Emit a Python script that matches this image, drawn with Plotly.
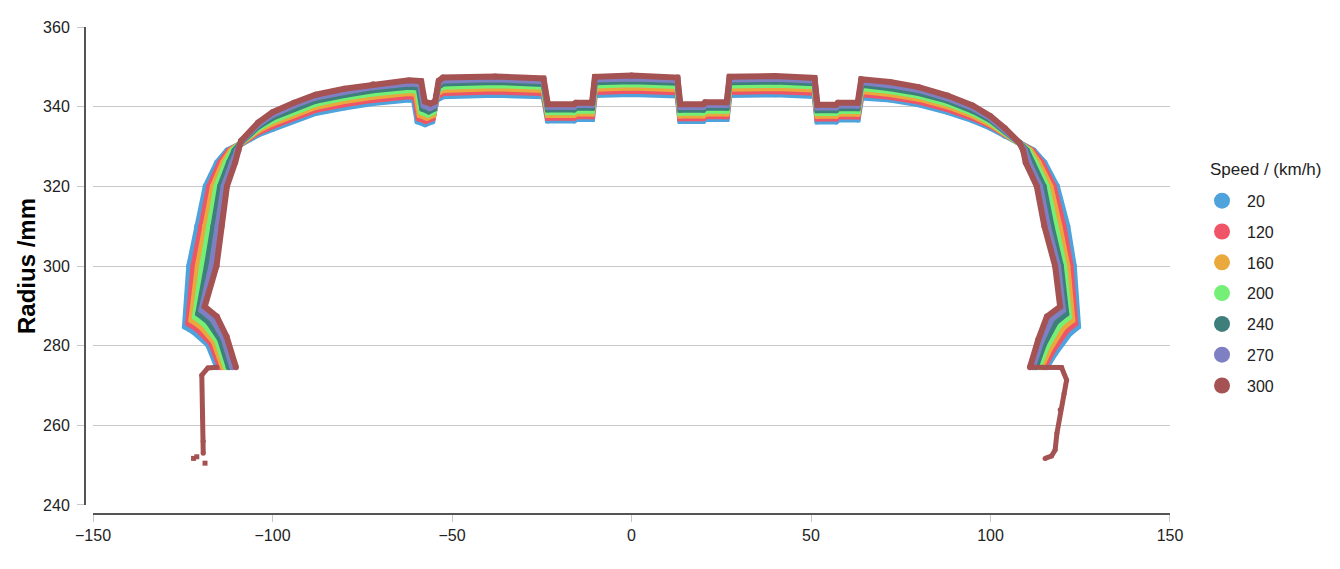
import plotly.graph_objects as go

# speeds in km/h, one profile per speed
speeds = ["20", "120", "160", "200", "240", "270", "300"]
colors = ["#4ea3dd", "#f05467", "#e9a93c", "#75f076", "#3e7f7c", "#7f80c4", "#a45252"]

# tyre profiles (lateral position mm, radius mm), left sidewall -> crown -> right sidewall
x20 = [-115.4, -117.9, -122.0, -124.4, -123.2, -121.0, -118.6, -115.4, -112.6, -108.4,
       -104, -100, -94, -88, -80, -72, -62, -60.6, -59.6, -57.5, -55.5, -54.3,
       -52.5, -38, -24.5, -23.3, -16, -15.5, -11, -10.2, 0, 12.8, 13.6, 20, 20.5, 26.5,
       27.3, 40, 51, 51.8, 57, 57.5, 63, 64, 72, 80, 88, 95, 100, 104,
       108.6, 112.0, 115.0, 118.5, 121.4, 123.2, 124.4, 122.1, 118.0, 115.6]
y20 = [274.6, 280.2, 283.5, 284.8, 300, 310, 320, 326, 329, 330.8,
       333.0, 334.4, 336.6, 338.4, 339.8, 340.9, 341.8, 341.6, 336.3, 335.6, 336.3, 341.7,
       342.6, 343.0, 342.6, 336.5, 336.5, 336.9, 336.9, 342.9, 343.2, 342.8, 336.4, 336.4, 336.9, 336.9,
       342.9, 343.1, 342.7, 336.3, 336.3, 336.8, 336.8, 342.3, 341.8, 340.6, 338.7, 336.6, 334.7, 332.7,
       330.4, 329, 326, 320, 310, 300, 284.8, 283.1, 278.1, 274.6]

x120 = [-114.6, -117.1, -121.0, -123.5, -122.0, -119.9, -117.6, -114.6, -112.1, -108.5,
        -104, -100, -94, -88, -80, -72, -62, -60.3, -59.3, -57.3, -55.4, -54.2,
        -52.5, -38, -24.5, -23.3, -16, -15.5, -11, -10.2, 0, 12.8, 13.6, 20, 20.5, 26.5,
        27.3, 40, 51, 51.8, 57, 57.5, 63, 64, 72, 80, 88, 95, 100, 104,
        108.5, 111.6, 114.2, 117.6, 120.3, 122.3, 123.6, 121.2, 117.3, 114.9]
y120 = [274.6, 280.6, 284.2, 285.6, 300, 310, 320, 326, 329, 330.9,
        333.5, 335.1, 337.3, 339.2, 340.6, 341.7, 342.6, 342.4, 337.1, 336.4, 337.1, 342.5,
        343.4, 343.8, 343.4, 337.2, 337.2, 337.6, 337.6, 343.7, 344.0, 343.6, 337.1, 337.1, 337.6, 337.6,
        343.7, 343.9, 343.5, 337.0, 337.0, 337.5, 337.5, 343.1, 342.5, 341.3, 339.4, 337.2, 335.2, 333.0,
        330.5, 329, 326, 320, 310, 300, 285.6, 283.8, 278.7, 274.6]

x160 = [-113.8, -116.3, -120.0, -122.6, -120.8, -118.8, -116.6, -113.8, -111.6, -108.5,
        -104, -100, -94, -88, -80, -72, -62, -60.0, -59.0, -57.0, -55.2, -54.1,
        -52.5, -38, -24.5, -23.3, -16, -15.5, -11, -10.2, 0, 12.8, 13.6, 20, 20.5, 26.5,
        27.3, 40, 51, 51.8, 57, 57.5, 63, 64, 72, 80, 88, 95, 100, 104,
        108.4, 111.1, 113.4, 116.7, 119.2, 121.4, 122.8, 120.2, 116.5, 114.1]
y160 = [274.6, 281.0, 284.8, 286.4, 300, 310, 320, 326, 329, 331.0,
        334.0, 335.8, 338.0, 339.9, 341.4, 342.5, 343.4, 343.2, 337.9, 337.2, 337.9, 343.3,
        344.2, 344.6, 344.2, 337.9, 337.9, 338.3, 338.3, 344.5, 344.8, 344.4, 337.8, 337.8, 338.3, 338.3,
        344.5, 344.7, 344.3, 337.7, 337.7, 338.2, 338.2, 343.9, 343.2, 342.0, 340.1, 337.8, 335.6, 333.3,
        330.6, 329, 326, 320, 310, 300, 286.4, 284.5, 279.2, 274.6]

x200 = [-113.0, -115.5, -119.0, -121.6, -119.6, -117.7, -115.6, -113.0, -111.1, -108.6,
        -104, -100, -94, -88, -80, -72, -62, -59.6, -58.6, -56.7, -55.1, -54.0,
        -52.5, -38, -24.5, -23.3, -16, -15.5, -11, -10.2, 0, 12.8, 13.6, 20, 20.5, 26.5,
        27.3, 40, 51, 51.8, 57, 57.5, 63, 64, 72, 80, 88, 95, 100, 104,
        108.3, 110.6, 112.5, 115.7, 118.1, 120.5, 121.9, 119.2, 115.7, 113.4]
y200 = [274.6, 281.4, 285.4, 287.2, 300, 310, 320, 326, 329, 331.1,
        334.5, 336.5, 338.7, 340.7, 342.2, 343.3, 344.2, 344.0, 338.7, 338.0, 338.7, 344.1,
        345.0, 345.4, 345.0, 338.6, 338.6, 339.0, 339.0, 345.3, 345.6, 345.2, 338.5, 338.5, 339.0, 339.0,
        345.3, 345.5, 345.1, 338.4, 338.4, 338.9, 338.9, 344.7, 343.9, 342.7, 340.8, 338.4, 336.1, 333.6,
        330.7, 329, 326, 320, 310, 300, 287.2, 285.2, 279.8, 274.6]

x240 = [-112.2, -114.6, -117.9, -120.7, -118.3, -116.5, -114.6, -112.1, -110.6, -108.6,
        -104, -100, -94, -88, -80, -72, -62, -59.3, -58.3, -56.5, -55.0, -53.9,
        -52.5, -38, -24.5, -23.3, -16, -15.5, -11, -10.2, 0, 12.8, 13.6, 20, 20.5, 26.5,
        27.3, 40, 51, 51.8, 57, 57.5, 63, 64, 72, 80, 88, 95, 100, 104,
        108.2, 110.1, 111.6, 114.8, 117.0, 119.6, 121.1, 118.2, 114.9, 112.6]
y240 = [274.6, 281.6, 286.0, 288.0, 300, 310, 320, 326, 329, 331.2,
        335.0, 337.2, 339.5, 341.5, 342.9, 344.1, 345.0, 344.8, 339.5, 338.8, 339.5, 344.9,
        345.8, 346.2, 345.7, 339.3, 339.3, 339.7, 339.7, 346.1, 346.4, 346.0, 339.2, 339.2, 339.7, 339.7,
        346.1, 346.3, 345.9, 339.1, 339.1, 339.6, 339.6, 345.5, 344.6, 343.4, 341.5, 339.0, 336.6, 333.9,
        330.8, 329, 326, 320, 310, 300, 288.0, 285.9, 280.4, 274.6]

x270 = [-111.2, -113.7, -116.7, -119.8, -117.0, -115.3, -113.6, -111.2, -110.0, -108.7,
        -104, -100, -94, -88, -80, -72, -62, -58.9, -57.9, -56.2, -54.8, -53.8,
        -52.5, -38, -24.5, -23.3, -16, -15.5, -11, -10.2, 0, 12.8, 13.6, 20, 20.5, 26.5,
        27.3, 40, 51, 51.8, 57, 57.5, 63, 64, 72, 80, 88, 95, 100, 104,
        108.1, 109.6, 110.7, 113.8, 116.0, 118.8, 120.2, 117.0, 114.1, 111.8]
y270 = [274.6, 282.0, 286.6, 288.9, 300, 310, 320, 326, 329, 331.3,
        335.5, 337.9, 340.3, 342.3, 343.7, 344.9, 345.8, 345.6, 340.3, 339.6, 340.3, 345.7,
        346.6, 346.9, 346.4, 340.0, 340.0, 340.4, 340.4, 346.8, 347.1, 346.7, 339.9, 339.9, 340.4, 340.4,
        346.8, 347.0, 346.6, 339.8, 339.8, 340.3, 340.3, 346.2, 345.4, 344.2, 342.1, 339.7, 337.1, 334.2,
        330.9, 329, 326, 320, 310, 300, 288.9, 286.6, 280.9, 274.6]

x300 = [-110.2, -112.8, -115.5, -118.9, -115.6, -114.2, -112.7, -110.4, -109.5, -108.8,
        -104, -100, -94, -88, -80, -72, -62, -58.6, -57.6, -56.0, -54.7, -53.7,
        -52.5, -38, -24.5, -23.3, -16, -15.5, -11, -10.2, 0, 12.8, 13.6, 20, 20.5, 26.5,
        27.3, 40, 51, 51.8, 57, 57.5, 63, 64, 72, 80, 88, 95, 100, 104,
        108.0, 109.1, 109.8, 112.9, 115.0, 118.0, 119.4, 115.7, 113.3, 111.0]
y300 = [274.6, 282.3, 287.3, 289.8, 300, 310, 320, 326, 329, 331.4,
        336.0, 338.6, 341.0, 343.0, 344.5, 345.6, 346.6, 346.4, 341.3, 340.8, 341.3, 346.5,
        347.3, 347.6, 347.1, 340.6, 340.6, 341.0, 341.0, 347.5, 347.8, 347.3, 340.6, 340.6, 341.1, 341.1,
        347.5, 347.7, 347.2, 340.5, 340.5, 341.0, 341.0, 346.9, 346.2, 344.9, 342.8, 340.3, 337.6, 334.6,
        331.0, 329, 326, 320, 310, 300, 289.8, 287.3, 281.5, 274.6]

# bead sections (only the 300 km/h trace is visible there)
bead_left_x = [-115.5, -118.0, -119.7, -119.5, -119.3, -119.3]
bead_left_y = [274.6, 274.4, 272.6, 262.0, 256.0, 253.0]
bead_right_x = [111.0, 119.8, 121.2, 120.5, 119.4, 118.5, 118.0, 117.0, 115.2]
bead_right_y = [274.6, 274.5, 271.4, 268.0, 263.9, 258.0, 253.8, 252.3, 251.7]
bead_dots_x = [-122.0, -121.1, -118.8]
bead_dots_y = [251.7, 252.1, 250.5]

profiles = [(x20, y20), (x120, y120), (x160, y160), (x200, y200), (x240, y240), (x270, y270), (x300, y300)]

fig = go.Figure()

for (xs, ys), name, col in zip(profiles, speeds, colors):
    fig.add_trace(go.Scatter(x=xs, y=ys, mode='lines+markers', name=name, showlegend=False,
                             line=dict(color=col, width=6), marker=dict(color=col, size=6)))

# beads drawn with the top (300 km/h) colour
fig.add_trace(go.Scatter(x=bead_left_x + [None] + bead_right_x, y=bead_left_y + [None] + bead_right_y,
                         mode='lines+markers', showlegend=False,
                         line=dict(color=colors[-1], width=5), marker=dict(color=colors[-1], size=5)))
fig.add_trace(go.Scatter(x=bead_dots_x, y=bead_dots_y, mode='markers', showlegend=False,
                         marker=dict(color=colors[-1], size=5, symbol='square')))

# legend entries: big dots only
for name, col in zip(speeds, colors):
    fig.add_trace(go.Scatter(x=[None], y=[None], mode='markers', name=name, legendgroup=name,
                             marker=dict(color=col, size=18)))

# page body adds an 8px offset, margins are set so the plot lands where the original is
fig.update_layout(
    width=1340, height=569,
    margin=dict(l=77, r=178, t=19, b=63),
    plot_bgcolor='white', paper_bgcolor='white',
    font=dict(family='Liberation Sans, Arial, sans-serif', size=16, color='#222'),
    legend=dict(x=1.0249, xanchor='left', y=0.678, yanchor='top',
                tracegroupgap=7, itemsizing='trace', itemwidth=40, font=dict(size=16)),
)

# legend heading
fig.add_annotation(text='Speed / (km/h)', xref='paper', yref='paper', x=1.0351, y=0.7084,
                   xanchor='left', yanchor='middle', showarrow=False, font=dict(size=17, color='#222'))

fig.update_xaxes(range=[-150, 150], domain=[0.0074, 1], anchor='free', position=0, automargin=False,
                 tickvals=[-150, -100, -50, 0, 50, 100, 150],
                 showgrid=False, zeroline=False, showline=True, linecolor='#555', linewidth=2,
                 ticks='outside', ticklen=7, tickcolor='#c8c8c8')
fig.update_yaxes(range=[240, 360], domain=[0.0185, 1], anchor='free', position=0, automargin=False,
                 tickvals=[240, 260, 280, 300, 320, 340, 360],
                 showgrid=True, gridcolor='#c8c8c8', gridwidth=1, zeroline=False,
                 showline=True, linecolor='#555', linewidth=2,
                 ticks='outside', ticklen=7, tickcolor='#c8c8c8', ticklabelstandoff=4,
                 title=dict(text='<b>Radius /mm</b>', font=dict(size=24, color='#000'), standoff=0))

fig.write_html("out.html")
